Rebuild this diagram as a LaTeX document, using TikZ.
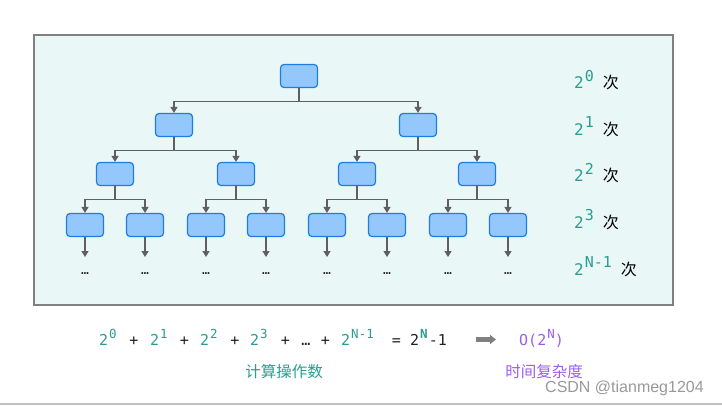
\documentclass[tikz,border=0pt]{standalone}
\usepackage{fontspec}
\setmonofont{DejaVu Sans Mono}
\setsansfont{Liberation Sans}
\newfontfamily\cjk{Noto Sans CJK SC}
\usetikzlibrary{arrows.meta}
\definecolor{tealtxt}{HTML}{2A9D8F}
\definecolor{purtxt}{HTML}{9B5CF0}
\definecolor{boxfill}{HTML}{94C7FC}
\definecolor{boxline}{HTML}{1C7EE5}
\definecolor{panelfill}{HTML}{EAF7F7}
\definecolor{panelline}{HTML}{808080}
\definecolor{linegray}{HTML}{5F5F5F}
\definecolor{inktxt}{HTML}{222222}
\newcommand{\pw}[2][12.5]{\kern1pt\raisebox{.45em}{\fontsize{#1}{#1}\selectfont #2}}
\begin{document}
\begin{tikzpicture}[x=1pt, y=-1pt, >={Triangle[length=6pt,width=7pt]},
  blk/.style={draw=boxline, fill=boxfill, rounded corners=3.5pt, line width=1.2pt,
    minimum width=37pt, minimum height=23pt, inner sep=0pt},
  conn/.style={->, draw=linegray, line width=1.2pt},
  term/.style={font=\ttfamily\fontsize{15}{15}\selectfont, text=tealtxt, inner sep=0pt, anchor=base west},
  sign/.style={font=\ttfamily\fontsize{15}{15}\selectfont, text=inktxt, inner sep=0pt, anchor=base},
  cnt/.style={font=\ttfamily\fontsize{16}{16}\selectfont, text=tealtxt, inner sep=0pt, anchor=base west},
  more/.style={font=\ttfamily\fontsize{13}{13}\selectfont, text=inktxt, inner sep=0pt, anchor=base}]
\useasboundingbox (0,0) rectangle (722,405);
\draw[draw=panelline, fill=panelfill, line width=1.2pt] (34,35) rectangle (673,305);
\draw[draw=black!25, line width=1.5pt] (0,404) -- (722,404);

\node[blk] (r) at (299,76) {};
\foreach \x [count=\i] in {174,418}
    \node[blk] (a\i) at (\x,125) {};
\foreach \x [count=\i] in {115,236,357,477}
    \node[blk] (b\i) at (\x,174) {};
\foreach \x [count=\i] in {85,145,206,266,327,387,448,508}
{
    \node[blk] (c\i) at (\x,225) {};
    \coordinate (e\i) at (\x,257);
    \node[more] (d\i) at (\x,274) {…};
}

\foreach \c in {a1,a2}
    \draw[conn] (r.south) -- ++(0,13.5) -| (\c.north);
\foreach \p/\c in {a1/b1,a1/b2,a2/b3,a2/b4,b1/c1,b1/c2,b2/c3,b2/c4,b3/c5,b3/c6,b4/c7,b4/c8}
    \draw[conn] (\p.south) -- ++(0,13.5) -| (\c.north);
\foreach \i in {1,...,8}
    \draw[conn] (c\i.south) -- (e\i);

\foreach \k/\y [count=\i] in {0/88.5,1/135,2/181.5,3/228,N-1/275}
    \node[cnt] (n\i) at (574,\y) {2\pw[15]{\k}\hspace{9pt}{\cjk\color{black}次}};

\foreach \k/\x [count=\i] in {0/99,1/150,2/200,3/250,N-1/341}
    \node[term] (t\i) at (\x,345) {2\pw{\k}};
\foreach \x [count=\i] in {134,184.5,235,285.5,325.5}
    \node[sign] (s\i) at (\x,345) {+};
\node[sign] (dots) at (306,345) {…};
\node[sign] (eq) at (396.5,345) {=};
\node[term, text=inktxt] (sum) at (410,345) {2\pw{\textbf{\color{tealtxt}N}}\kern1pt-1};
\coordinate (g1) at (476,339.5);
\coordinate (g2) at (496,339.5);
\draw[draw=black!50, line width=4.5pt, -{Triangle[length=6pt,width=9pt]}] (g1) -- (g2);
\node[term, text=purtxt] (big) at (519,345) {O(2\pw{N})};

\node[font=\cjk\fontsize{15.5}{16}\selectfont, text=tealtxt] (ops) at (284,372) {计算操作数};
\node[font=\cjk\fontsize{15.5}{16}\selectfont, text=purtxt] (cplx) at (544,372) {时间复杂度};
\node[font=\sffamily\fontsize{16}{16}\selectfont, text=black!40, inner sep=0pt, anchor=base west] (mark) at (545,392) {CSDN @tianmeg1204};
\end{tikzpicture}
\end{document}
